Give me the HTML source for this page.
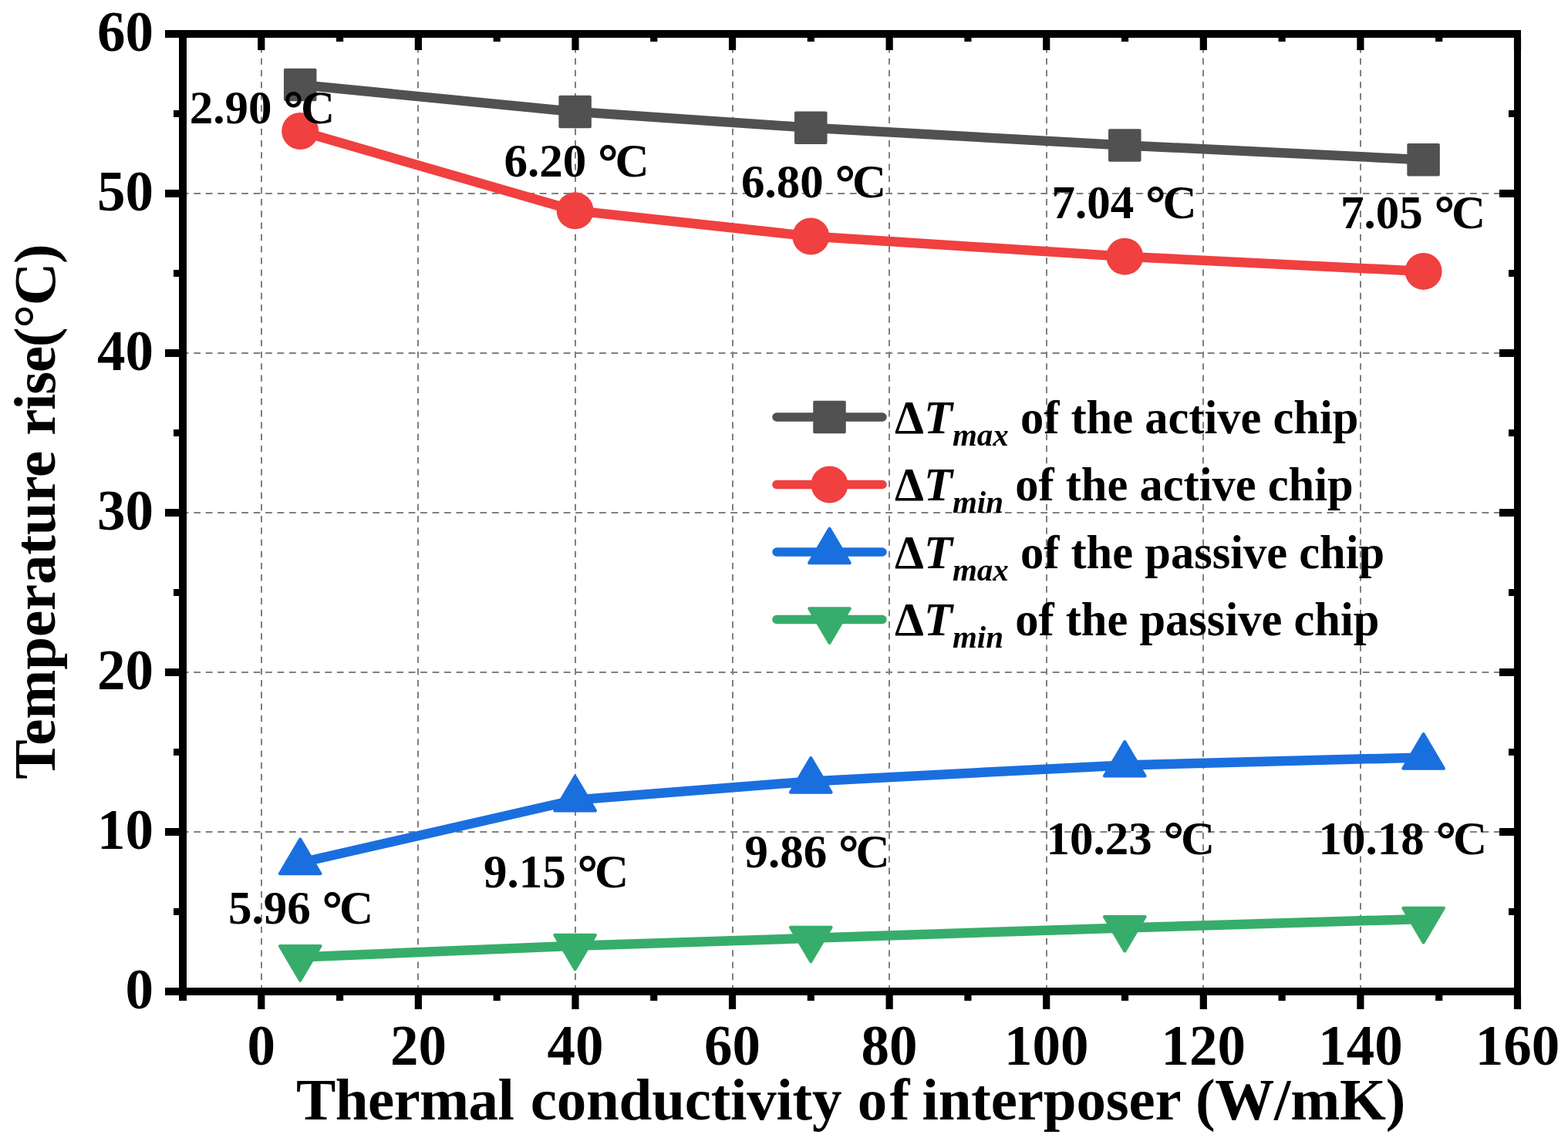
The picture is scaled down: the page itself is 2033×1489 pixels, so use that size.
<!DOCTYPE html>
<html><head><meta charset="utf-8"><title>Temperature rise vs thermal conductivity</title>
<style>html,body{margin:0;padding:0;background:#fff;}svg{display:block;}</style></head>
<body>
<svg width="2033" height="1489" viewBox="0 0 2033 1489">
<rect width="2033" height="1489" fill="#fff"/>
<path d="M235.8 1079H1963 M235.8 872H1963 M235.8 665H1963 M235.8 458H1963 M235.8 251H1963" stroke="#808080" stroke-width="2" stroke-dasharray="8.8 6.665" fill="none"/>
<path d="M339 45V1281 M542 45V1281 M746 45V1281 M950 45V1281 M1153 45V1281 M1357 45V1281 M1560 45V1281 M1764 45V1281" stroke="#808080" stroke-width="2" stroke-dasharray="8.4 6.82" fill="none"/>
<polyline points="389.2,110.0 745.6,145.0 1051.3,165.7 1458.3,188.4 1845.6,207.3" fill="none" stroke="#515151" stroke-width="12.5" stroke-linejoin="round"/>
<polyline points="389.2,170.0 745.6,273.3 1051.3,306.5 1458.3,332.7 1845.6,351.9" fill="none" stroke="#F04040" stroke-width="12.5" stroke-linejoin="round"/>
<polyline points="389.2,1119.0 745.6,1037.5 1051.3,1013.4 1458.3,992.4 1845.6,982.4" fill="none" stroke="#1A6FDF" stroke-width="12.5" stroke-linejoin="round"/>
<polyline points="389.2,1241.5 745.6,1226.7 1051.3,1216.8 1458.3,1203.4 1845.6,1191.9" fill="none" stroke="#37AD6B" stroke-width="12.5" stroke-linejoin="round"/>
<rect x="369.70" y="90.50" width="39" height="39" fill="#515151" stroke="#515151" stroke-width="3.5" stroke-linejoin="round"/>
<rect x="726.10" y="125.50" width="39" height="39" fill="#515151" stroke="#515151" stroke-width="3.5" stroke-linejoin="round"/>
<rect x="1031.80" y="146.20" width="39" height="39" fill="#515151" stroke="#515151" stroke-width="3.5" stroke-linejoin="round"/>
<rect x="1438.80" y="168.90" width="39" height="39" fill="#515151" stroke="#515151" stroke-width="3.5" stroke-linejoin="round"/>
<rect x="1826.10" y="187.80" width="39" height="39" fill="#515151" stroke="#515151" stroke-width="3.5" stroke-linejoin="round"/>
<circle cx="389.2" cy="170.0" r="24" fill="#F04040"/>
<circle cx="745.6" cy="273.3" r="24" fill="#F04040"/>
<circle cx="1051.3" cy="306.5" r="24" fill="#F04040"/>
<circle cx="1458.3" cy="332.7" r="24" fill="#F04040"/>
<circle cx="1845.6" cy="351.9" r="24" fill="#F04040"/>
<path d="M389.20 1088.55L415.55 1133.15H362.85Z" fill="#1A6FDF" stroke="#1A6FDF" stroke-width="4.0" stroke-linejoin="round"/>
<path d="M745.60 1006.90L771.95 1051.50H719.25Z" fill="#1A6FDF" stroke="#1A6FDF" stroke-width="4.0" stroke-linejoin="round"/>
<path d="M1051.30 983.05L1077.65 1027.65H1024.95Z" fill="#1A6FDF" stroke="#1A6FDF" stroke-width="4.0" stroke-linejoin="round"/>
<path d="M1458.30 962.00L1484.65 1006.60H1431.95Z" fill="#1A6FDF" stroke="#1A6FDF" stroke-width="4.0" stroke-linejoin="round"/>
<path d="M1845.60 952.08L1871.95 996.67H1819.25Z" fill="#1A6FDF" stroke="#1A6FDF" stroke-width="4.0" stroke-linejoin="round"/>
<path d="M362.85 1227.10H415.55L389.20 1271.70Z" fill="#37AD6B" stroke="#37AD6B" stroke-width="4.0" stroke-linejoin="round"/>
<path d="M719.25 1212.65H771.95L745.60 1257.25Z" fill="#37AD6B" stroke="#37AD6B" stroke-width="4.0" stroke-linejoin="round"/>
<path d="M1024.95 1202.65H1077.65L1051.30 1247.25Z" fill="#37AD6B" stroke="#37AD6B" stroke-width="4.0" stroke-linejoin="round"/>
<path d="M1431.95 1189.05H1484.65L1458.30 1233.65Z" fill="#37AD6B" stroke="#37AD6B" stroke-width="4.0" stroke-linejoin="round"/>
<path d="M1819.25 1177.85H1871.95L1845.60 1222.45Z" fill="#37AD6B" stroke="#37AD6B" stroke-width="4.0" stroke-linejoin="round"/>
<path d="M214.00 39.00H1972.00V49.00H214.00Z M232.00 39.00H242.00V1298.00H232.00Z M1963.00 39.00H1972.00V1309.00H1963.00Z M214.00 1281.00H1972.00V1291.00H214.00Z M214.00 1281.00H232.00V1291.00H214.00Z M1944.00 1281.00H1963.00V1291.00H1944.00Z M214.00 1074.00H232.00V1084.00H214.00Z M1944.00 1074.00H1963.00V1084.00H1944.00Z M214.00 867.00H232.00V877.00H214.00Z M1944.00 867.00H1963.00V877.00H1944.00Z M214.00 660.00H232.00V670.00H214.00Z M1944.00 660.00H1963.00V670.00H1944.00Z M214.00 453.00H232.00V463.00H214.00Z M1944.00 453.00H1963.00V463.00H1944.00Z M214.00 246.00H232.00V256.00H214.00Z M1944.00 246.00H1963.00V256.00H1944.00Z M214.00 39.00H232.00V49.00H214.00Z M1944.00 39.00H1963.00V49.00H1944.00Z M225.00 1178.00H232.00V1187.00H225.00Z M1956.00 1178.00H1963.00V1187.00H1956.00Z M225.00 971.00H232.00V980.00H225.00Z M1956.00 971.00H1963.00V980.00H1956.00Z M225.00 764.00H232.00V773.00H225.00Z M1956.00 764.00H1963.00V773.00H1956.00Z M225.00 557.00H232.00V566.00H225.00Z M1956.00 557.00H1963.00V566.00H1956.00Z M225.00 350.00H232.00V359.00H225.00Z M1956.00 350.00H1963.00V359.00H1956.00Z M225.00 143.00H232.00V152.00H225.00Z M1956.00 143.00H1963.00V152.00H1956.00Z M334.19 1291.00H343.39V1309.00H334.19Z M334.19 49.00H343.39V65.00H334.19Z M537.78 1291.00H546.98V1309.00H537.78Z M537.78 49.00H546.98V65.00H537.78Z M741.37 1291.00H750.57V1309.00H741.37Z M741.37 49.00H750.57V65.00H741.37Z M944.96 1291.00H954.16V1309.00H944.96Z M944.96 49.00H954.16V65.00H944.96Z M1148.55 1291.00H1157.75V1309.00H1148.55Z M1148.55 49.00H1157.75V65.00H1148.55Z M1352.14 1291.00H1361.34V1309.00H1352.14Z M1352.14 49.00H1361.34V65.00H1352.14Z M1555.72 1291.00H1564.92V1309.00H1555.72Z M1555.72 49.00H1564.92V65.00H1555.72Z M1759.31 1291.00H1768.51V1309.00H1759.31Z M1759.31 49.00H1768.51V65.00H1759.31Z M1962.90 1291.00H1972.10V1309.00H1962.90Z M1962.90 49.00H1972.10V65.00H1962.90Z M232.40 1291.00H241.60V1298.00H232.40Z M232.40 49.00H241.60V54.00H232.40Z M435.99 1291.00H445.19V1298.00H435.99Z M435.99 49.00H445.19V54.00H435.99Z M639.58 1291.00H648.78V1298.00H639.58Z M639.58 49.00H648.78V54.00H639.58Z M843.16 1291.00H852.36V1298.00H843.16Z M843.16 49.00H852.36V54.00H843.16Z M1046.75 1291.00H1055.95V1298.00H1046.75Z M1046.75 49.00H1055.95V54.00H1046.75Z M1250.34 1291.00H1259.54V1298.00H1250.34Z M1250.34 49.00H1259.54V54.00H1250.34Z M1453.93 1291.00H1463.13V1298.00H1453.93Z M1453.93 49.00H1463.13V54.00H1453.93Z M1657.52 1291.00H1666.72V1298.00H1657.52Z M1657.52 49.00H1666.72V54.00H1657.52Z M1861.11 1291.00H1870.31V1298.00H1861.11Z M1861.11 49.00H1870.31V54.00H1861.11Z" fill="#000"/>
<g font-family="'Liberation Serif','Times New Roman',serif" font-weight="bold" font-size="73" fill="#000">
<text x="199" y="1308.3" text-anchor="end">0</text>
<text x="199" y="1101.3" text-anchor="end">10</text>
<text x="199" y="894.3" text-anchor="end">20</text>
<text x="199" y="687.3" text-anchor="end">30</text>
<text x="199" y="480.3" text-anchor="end">40</text>
<text x="199" y="273.3" text-anchor="end">50</text>
<text x="199" y="66.3" text-anchor="end">60</text>
<text x="338.8" y="1380.7" text-anchor="middle">0</text>
<text x="542.4" y="1380.7" text-anchor="middle">20</text>
<text x="746.0" y="1380.7" text-anchor="middle">40</text>
<text x="949.6" y="1380.7" text-anchor="middle">60</text>
<text x="1153.1" y="1380.7" text-anchor="middle">80</text>
<text x="1356.7" y="1380.7" text-anchor="middle">100</text>
<text x="1560.3" y="1380.7" text-anchor="middle">120</text>
<text x="1763.9" y="1380.7" text-anchor="middle">140</text>
<text x="1967.5" y="1380.7" text-anchor="middle">160</text>
</g>
<g font-family="'Liberation Serif','Times New Roman',serif" font-weight="bold" font-size="77">
<text x="384.0" y="1452" textLength="282.9" lengthAdjust="spacing">Thermal</text>
<text x="687.8" y="1452" textLength="403.7" lengthAdjust="spacing">conductivity</text>
<text x="1111.7" y="1452" textLength="67.8" lengthAdjust="spacing">of</text>
<text x="1195.5" y="1452" textLength="336.2" lengthAdjust="spacing">interposer</text>
<text x="1549.9" y="1452" textLength="272.5" lengthAdjust="spacing">(W/mK)</text>
</g>
<g font-family="'Liberation Serif','Times New Roman',serif" font-weight="bold" font-size="77" transform="translate(71 1010.8) rotate(-90)"><text x="0" y="0" textLength="426.1" lengthAdjust="spacing">Temperature</text><text x="446" y="0" textLength="248.5" lengthAdjust="spacing">rise(°C)</text></g>
<g font-family="'Liberation Serif','Times New Roman',serif" font-weight="bold" font-size="61" fill="#000">
<text x="245.8" y="159.9">2.90 <tspan font-size="64" stroke="#000" stroke-width="1.2" dy="2">°</tspan><tspan dx="-3.5" dy="-2">C</tspan></text>
<text x="653.4" y="229.0">6.20 <tspan font-size="64" stroke="#000" stroke-width="1.2" dy="2">°</tspan><tspan dx="-3.5" dy="-2">C</tspan></text>
<text x="960.9" y="255.6">6.80 <tspan font-size="64" stroke="#000" stroke-width="1.2" dy="2">°</tspan><tspan dx="-3.5" dy="-2">C</tspan></text>
<text x="1363.5" y="282.5">7.04 <tspan font-size="64" stroke="#000" stroke-width="1.2" dy="2">°</tspan><tspan dx="-3.5" dy="-2">C</tspan></text>
<text x="1737.9" y="296.4">7.05 <tspan font-size="64" stroke="#000" stroke-width="1.2" dy="2">°</tspan><tspan dx="-3.5" dy="-2">C</tspan></text>
<text x="295.9" y="1198.3">5.96 <tspan font-size="64" stroke="#000" stroke-width="1.2" dy="2">°</tspan><tspan dx="-3.5" dy="-2">C</tspan></text>
<text x="626.9" y="1151.1">9.15 <tspan font-size="64" stroke="#000" stroke-width="1.2" dy="2">°</tspan><tspan dx="-3.5" dy="-2">C</tspan></text>
<text x="965.5" y="1125.3">9.86 <tspan font-size="64" stroke="#000" stroke-width="1.2" dy="2">°</tspan><tspan dx="-3.5" dy="-2">C</tspan></text>
<text x="1356.4" y="1108.2">10.23 <tspan font-size="64" stroke="#000" stroke-width="1.2" dy="2">°</tspan><tspan dx="-3.5" dy="-2">C</tspan></text>
<text x="1709.4" y="1108.2">10.18 <tspan font-size="64" stroke="#000" stroke-width="1.2" dy="2">°</tspan><tspan dx="-3.5" dy="-2">C</tspan></text>
</g>
<line x1="1007" y1="541" x2="1144" y2="541" stroke="#515151" stroke-width="11.5" stroke-linecap="round"/>
<rect x="1056.0" y="521.5" width="39" height="39" fill="#515151" stroke="#515151" stroke-width="3.5" stroke-linejoin="round"/>
<text font-family="'Liberation Serif','Times New Roman',serif" font-weight="bold" font-size="60.5" x="1160" y="561.7">Δ<tspan font-style="italic">T</tspan><tspan font-style="italic" font-size="41" dy="16">max</tspan><tspan dy="-16"> of the active chip</tspan></text>
<line x1="1007" y1="628.5" x2="1144" y2="628.5" stroke="#F04040" stroke-width="11.5" stroke-linecap="round"/>
<circle cx="1075.5" cy="628.5" r="24" fill="#F04040"/>
<text font-family="'Liberation Serif','Times New Roman',serif" font-weight="bold" font-size="60.5" x="1160" y="649.2">Δ<tspan font-style="italic">T</tspan><tspan font-style="italic" font-size="41" dy="16">min</tspan><tspan dy="-16"> of the active chip</tspan></text>
<line x1="1007" y1="716" x2="1144" y2="716" stroke="#1A6FDF" stroke-width="11.5" stroke-linecap="round"/>
<path d="M1075.50 685.60L1101.85 730.20H1049.15Z" fill="#1A6FDF" stroke="#1A6FDF" stroke-width="4.0" stroke-linejoin="round"/>
<text font-family="'Liberation Serif','Times New Roman',serif" font-weight="bold" font-size="60.5" x="1160" y="736.7">Δ<tspan font-style="italic">T</tspan><tspan font-style="italic" font-size="41" dy="16">max</tspan><tspan dy="-16"> of the passive chip</tspan></text>
<line x1="1007" y1="803.5" x2="1144" y2="803.5" stroke="#37AD6B" stroke-width="11.5" stroke-linecap="round"/>
<path d="M1049.15 789.30H1101.85L1075.50 833.90Z" fill="#37AD6B" stroke="#37AD6B" stroke-width="4.0" stroke-linejoin="round"/>
<text font-family="'Liberation Serif','Times New Roman',serif" font-weight="bold" font-size="60.5" x="1160" y="824.2">Δ<tspan font-style="italic">T</tspan><tspan font-style="italic" font-size="41" dy="16">min</tspan><tspan dy="-16"> of the passive chip</tspan></text>
</svg>
</body></html>
